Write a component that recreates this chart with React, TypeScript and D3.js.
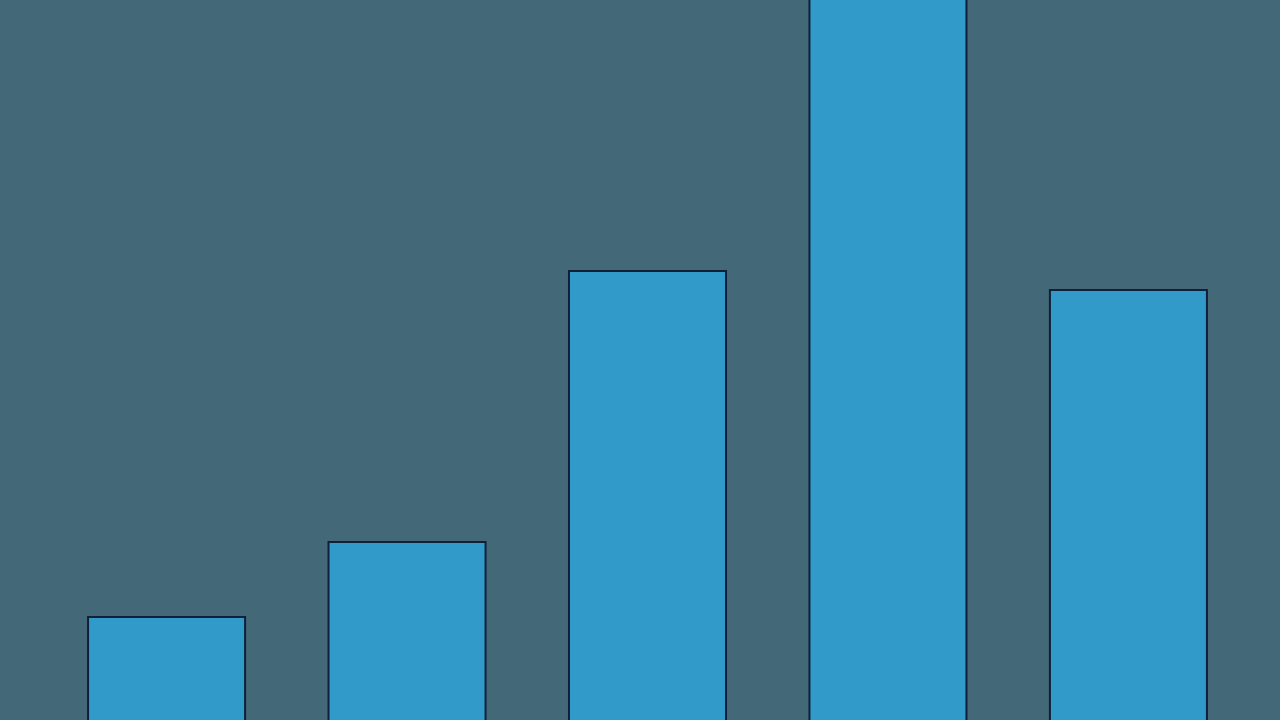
import React from 'react';
import * as d3 from 'd3';

const categories = ['A', 'B', 'C', 'D', 'E'];
const values = [103, 178, 449, 760, 430];

const W = 1280;
const H = 720;

export default function App() {
  const x = d3.scaleBand<string>()
    .domain(categories)
    .range([7.5, W + 7.5])
    .paddingInner(0.347)
    .paddingOuter(0.335);

  const y = d3.scaleLinear().domain([0, 720]).range([H, 0]);

  return (
    <svg
      width={W}
      height={H}
      style={{ position: 'fixed', top: 0, left: 0, display: 'block' }}
    >
      <rect x={0} y={0} width={W} height={H} fill="#436878" />
      {categories.map((c, i) => (
        <rect
          key={c}
          x={x(c)}
          y={y(values[i])}
          width={x.bandwidth()}
          height={H + 20 - y(values[i])}
          fill="#319ac9"
          stroke="#10203a"
          strokeWidth={2}
        />
      ))}
    </svg>
  );
}
